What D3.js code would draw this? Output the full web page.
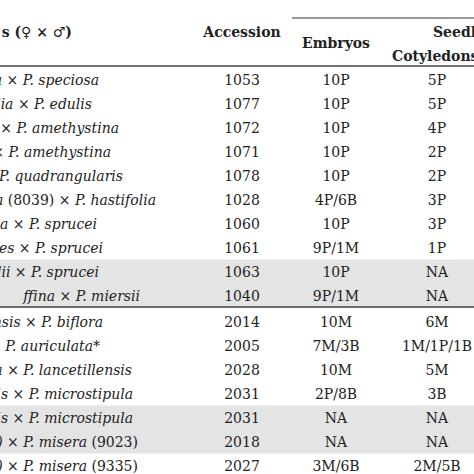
<!DOCTYPE html>
<html><head><meta charset="utf-8">
<script src="https://cdn.jsdelivr.net/npm/d3@7"></script>
<style>body{margin:0;background:#fff}svg{display:block}</style>
</head><body>
<script>
const crosses = ["a × P. speciosa","lia × P. edulis","× P. amethystina","× P. amethystina","× P. quadrangularis","a (8039) × P. hastifolia","sa × P. sprucei","des × P. sprucei","llii × P. sprucei","ffina × P. miersii","nsis × P. biflora","× P. auriculata*","a × P. lancetillensis","sis × P. microstipula","sis × P. microstipula","5) × P. misera (9023)","5) × P. misera (9335)"];
const nameEnds = [99,92,119,111,123,156,97,103,99,140,103,100,132,133,133,138,138];
const accession = ["1053","1077","1072","1071","1078","1028","1060","1061","1063","1040","2014","2005","2028","2031","2031","2018","2027"];
const embryos = ["10P","10P","10P","10P","10P","4P/6B","10P","9P/1M","10P","9P/1M","10M","7M/3B","10M","2P/8B","NA","NA","3M/6B"];
const cotyledons = ["5P","5P","4P","2P","2P","3P","3P","1P","NA","NA","6M","1M/1P/1B","5M","3B","NA","NA","2M/5B"];
const shaded = [8,9,14,15];

const W=474,H=474,font="'DejaVu Serif', serif",fs=14;
const svg=d3.select("body").append("svg").attr("width",W).attr("height",H);
const y=d3.scaleLinear().domain([0,9]).range([80,296]);
const yr=i=>y(i)+(i>=10?2:0);
const x=d3.scaleOrdinal().domain(["acc","emb","cot"]).range([242,336,437]);

svg.selectAll("rect.sh").data(shaded).join("rect")
 .attr("x",0).attr("width",W).attr("y",i=>yr(i)-12.5).attr("height",24).attr("fill","#e4e4e4");

svg.append("line").attr("x1",292).attr("x2",W).attr("y1",18).attr("y2",18).attr("stroke","#333").attr("stroke-width",1.2);
svg.append("line").attr("x1",0).attr("x2",W).attr("y1",66).attr("y2",66).attr("stroke","#444").attr("stroke-width",1.6);
svg.append("line").attr("x1",0).attr("x2",W).attr("y1",307).attr("y2",307).attr("stroke","#444").attr("stroke-width",1.6);

const hd=svg.append("g").attr("font-family",font).attr("font-weight","bold").attr("font-size",fs).attr("fill","#222");
hd.append("text").attr("x",72).attr("y",37).attr("text-anchor","end").text("s (♀ × ♂)");
hd.append("text").attr("x",x("acc")).attr("y",37).attr("text-anchor","middle").text("Accession");
hd.append("text").attr("x",x("emb")).attr("y",48).attr("text-anchor","middle").text("Embryos");
hd.append("text").attr("x",433).attr("y",37).text("Seedlings");
hd.append("text").attr("x",392).attr("y",61).text("Cotyledons");

const body=svg.append("g").attr("font-family",font).attr("font-size",fs).attr("fill","#222");
const nm=body.selectAll("text.nm").data(crosses).join("text")
 .attr("x",(d,i)=>nameEnds[i]).attr("y",(d,i)=>yr(i)+5).attr("text-anchor","end");
nm.each(function(d){
  const parts=d.split(/(\(\d+\)|×)/).filter(s=>s.length);
  d3.select(this).selectAll("tspan").data(parts).join("tspan")
   .attr("font-style",p=>/^(\(\d+\)|×)$/.test(p)?"normal":"italic").text(p=>p);
});
[["acc",accession],["emb",embryos],["cot",cotyledons]].forEach(([k,arr])=>{
  body.selectAll("text."+k).data(arr).join("text").attr("class",k)
   .attr("x",x(k)).attr("y",(d,i)=>yr(i)+5).attr("text-anchor","middle").text(d=>d);
});
</script>
</body></html>
